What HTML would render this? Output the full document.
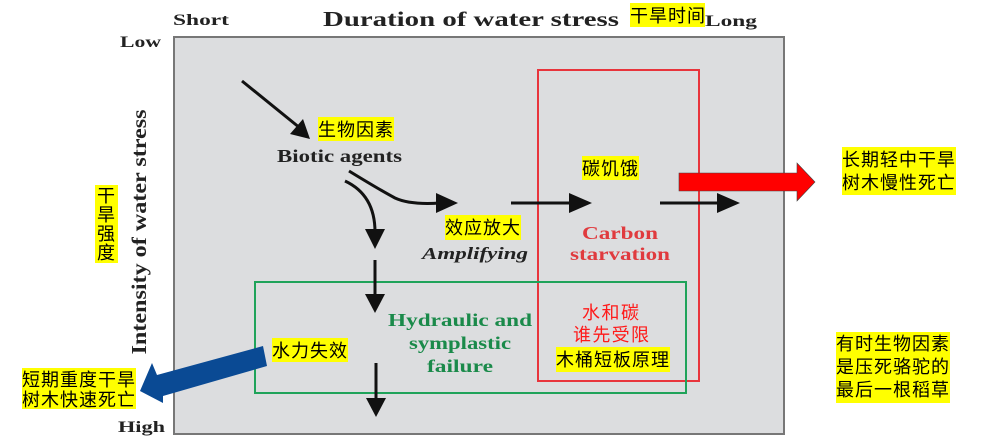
<!DOCTYPE html>
<html><head><meta charset="utf-8"><style>
body{margin:0;background:#fff;}
svg{display:block}
.s{font-family:"Liberation Serif",serif;font-weight:bold;fill:#222}
.c{font-family:"Liberation Sans","Noto Sans CJK SC",sans-serif;font-size:18px;fill:#000}
</style></head><body>
<svg width="1000" height="443" viewBox="0 0 1000 443" xmlns="http://www.w3.org/2000/svg">
<rect x="174" y="37" width="610" height="397" fill="#dcdddf" stroke="#777" stroke-width="2"/>
<rect x="538" y="70" width="161" height="311" fill="none" stroke="#e8343c" stroke-width="2"/>
<rect x="255" y="282" width="431" height="111" fill="none" stroke="#1fa35a" stroke-width="2"/>

<text x="173" y="25" class="s" font-size="16" textLength="56" lengthAdjust="spacingAndGlyphs">Short</text>
<text x="323" y="26" class="s" font-size="21" textLength="296" lengthAdjust="spacingAndGlyphs">Duration of water stress</text>
<rect x="630" y="3" width="75" height="24" fill="#ffff00"/>
<text x="630" y="22" class="c" textLength="75">干旱时间</text>
<text x="705" y="26" class="s" font-size="16" textLength="52" lengthAdjust="spacingAndGlyphs">Long</text>
<text x="120" y="47" class="s" font-size="16" textLength="41" lengthAdjust="spacingAndGlyphs">Low</text>
<text x="118" y="432" class="s" font-size="16" textLength="47" lengthAdjust="spacingAndGlyphs">High</text>
<text transform="translate(146,232) rotate(-90)" text-anchor="middle" class="s" font-size="21" textLength="245" lengthAdjust="spacingAndGlyphs">Intensity of water stress</text>
<rect x="95" y="185" width="23" height="78" fill="#ffff00"/>
<text x="97" y="202" class="c">干</text><text x="97" y="221" class="c">旱</text><text x="97" y="240" class="c">强</text><text x="97" y="259" class="c">度</text>

<path d="M242,81 L300,128" stroke="#111" stroke-width="3" fill="none"/>
<path d="M290,134 L310,139 L303,119 z" fill="#111"/>
<rect x="318" y="117" width="76" height="24" fill="#ffff00"/>
<text x="318" y="136" class="c" textLength="75">生物因素</text>
<text x="277" y="162" class="s" font-size="18" textLength="125" lengthAdjust="spacingAndGlyphs">Biotic agents</text>

<path d="M349,171 Q380,190 395,198 Q410,205 440,203" stroke="#111" stroke-width="3" fill="none"/>
<path d="M436,193 L458,203 L436,213 z" fill="#111"/>
<path d="M345,181 Q375,195 375,232" stroke="#111" stroke-width="3" fill="none"/>
<path d="M365,229 L375,249 L385,229 z" fill="#111"/>

<rect x="445" y="215" width="76" height="25" fill="#ffff00"/>
<text x="445" y="234" class="c" textLength="75">效应放大</text>
<text x="422" y="259" class="s" font-size="17" font-style="italic" textLength="106" lengthAdjust="spacingAndGlyphs">Amplifying</text>

<path d="M511,203 L575,203" stroke="#111" stroke-width="3"/>
<path d="M569,193 L592,203 L569,213 z" fill="#111"/>
<path d="M660,203 L722,203" stroke="#111" stroke-width="3"/>
<path d="M717,193 L740,203 L717,213 z" fill="#111"/>

<rect x="582" y="156" width="57" height="24" fill="#ffff00"/>
<text x="582" y="175" class="c" textLength="56">碳饥饿</text>
<text x="620" y="239" text-anchor="middle" class="s" font-size="18" style="fill:#e03a3e" textLength="76" lengthAdjust="spacingAndGlyphs">Carbon</text>
<text x="620" y="260" text-anchor="middle" class="s" font-size="18" style="fill:#e03a3e" textLength="100" lengthAdjust="spacingAndGlyphs">starvation</text>

<path d="M679,173 L797,173 L797,163 L815,182 L797,201 L797,191 L679,191 z" fill="#ff0000" stroke="#444" stroke-width="0.6"/>
<rect x="842" y="147" width="114" height="48" fill="#ffff00"/>
<text x="842" y="166" class="c" textLength="113">长期轻中干旱</text>
<text x="842" y="189" class="c" textLength="113">树木慢性死亡</text>

<path d="M375,260 L375,297" stroke="#111" stroke-width="3"/>
<path d="M365,294 L375,313 L385,294 z" fill="#111"/>
<text x="460" y="326" text-anchor="middle" class="s" font-size="18" style="fill:#1a8a4a" textLength="144" lengthAdjust="spacingAndGlyphs">Hydraulic and</text>
<text x="460" y="349" text-anchor="middle" class="s" font-size="18" style="fill:#1a8a4a" textLength="102" lengthAdjust="spacingAndGlyphs">symplastic</text>
<text x="460" y="372" text-anchor="middle" class="s" font-size="18" style="fill:#1a8a4a" textLength="66" lengthAdjust="spacingAndGlyphs">failure</text>
<rect x="272" y="338" width="76" height="24" fill="#ffff00"/>
<text x="272" y="357" class="c" textLength="75">水力失效</text>
<path d="M263,346 L267,366 L163,396 L163,403 L140,391 L152,363 L157,375 z" fill="#0a4a94"/>
<rect x="22" y="368" width="114" height="41" fill="#ffff00"/>
<text x="22" y="386" class="c" textLength="113">短期重度干旱</text>
<text x="22" y="406" class="c" textLength="113">树木快速死亡</text>

<path d="M376,363 L376,400" stroke="#111" stroke-width="3"/>
<path d="M366,398 L376,417 L386,398 z" fill="#111"/>

<text x="582" y="319" class="c" style="fill:#ff1a1a" textLength="57">水和碳</text>
<text x="573" y="341" class="c" style="fill:#ff1a1a" textLength="76">谁先受限</text>
<rect x="556" y="347" width="114" height="25" fill="#ffff00"/>
<text x="556" y="366" class="c" textLength="113">木桶短板原理</text>

<rect x="836" y="332" width="114" height="71" fill="#ffff00"/>
<text x="836" y="350" class="c" textLength="113">有时生物因素</text>
<text x="836" y="373" class="c" textLength="113">是压死骆驼的</text>
<text x="836" y="396" class="c" textLength="113">最后一根稻草</text>
</svg>
</body></html>
